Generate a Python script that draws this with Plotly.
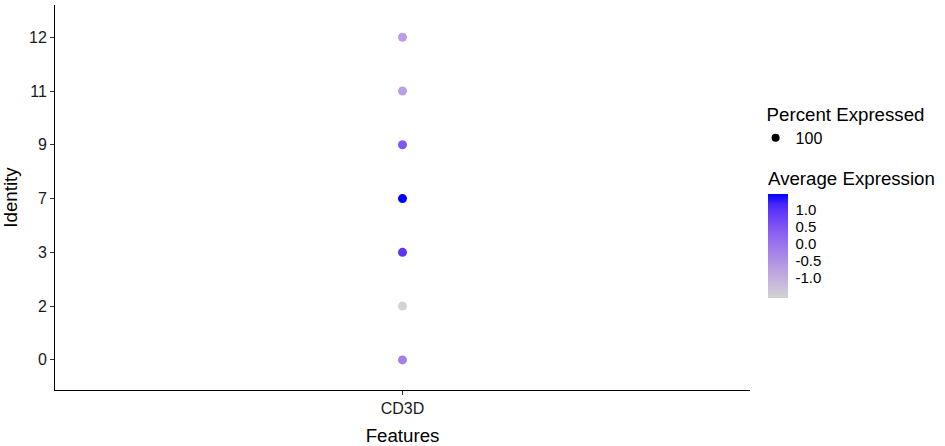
import plotly.graph_objects as go
import numpy as np

identities = ["0", "2", "3", "7", "9", "11", "12"]
features = ["CD3D"]
avg_expression = [-0.25, -1.6, 0.95, 1.45, 0.45, -0.75, -0.75]
pct_expressed = [100, 100, 100, 100, 100, 100, 100]

# ggplot-like lab interpolation lightgrey -> blue
def srgb_to_lin(c):
    c = c / 255.0
    return np.where(c <= 0.04045, c / 12.92, ((c + 0.055) / 1.055) ** 2.4)

def lin_to_srgb(c):
    c = np.clip(c, 0, 1)
    return np.where(c <= 0.0031308, 12.92 * c, 1.055 * c ** (1 / 2.4) - 0.055) * 255

M = np.array([[0.4124, 0.3576, 0.1805], [0.2126, 0.7152, 0.0722], [0.0193, 0.1192, 0.9505]])
Minv = np.linalg.inv(M)
wp = np.array([0.95047, 1.0, 1.08883])

def f(t):
    return np.where(t > (6 / 29) ** 3, np.cbrt(t), t / (3 * (6 / 29) ** 2) + 4 / 29)

def finv(t):
    return np.where(t > 6 / 29, t ** 3, 3 * (6 / 29) ** 2 * (t - 4 / 29))

def rgb_to_lab(rgb):
    xyz = M @ srgb_to_lin(np.array(rgb, float)) / wp
    fx, fy, fz = f(xyz)
    return np.array([116 * fy - 16, 500 * (fx - fy), 200 * (fy - fz)])

def lab_to_rgb(lab):
    L, a, b = lab
    fy = (L + 16) / 116
    fx = fy + a / 500
    fz = fy - b / 200
    xyz = finv(np.array([fx, fy, fz])) * wp
    return lin_to_srgb(Minv @ xyz)

lo = rgb_to_lab([211, 211, 211])
hi = rgb_to_lab([0, 0, 255])
colorscale = []
for t in np.linspace(0, 1, 11):
    r, g, b = lab_to_rgb(lo + (hi - lo) * t)
    colorscale.append([float(t), f"rgb({int(round(r))},{int(round(g))},{int(round(b))})"])

font = "Liberation Sans, Arial, sans-serif"
TITLE = 18.7
TICK = 16

fig = go.Figure()
fig.add_trace(go.Scatter(
    x=features * len(identities), y=identities, mode="markers",
    marker=dict(size=9, color=avg_expression, colorscale=colorscale,
                showscale=True,
                colorbar=dict(
                    title=dict(text="Average Expression", side="top",
                               font=dict(size=TITLE, color="black", family=font)),
                    thickness=20, thicknessmode="pixels",
                    len=130, lenmode="pixels",
                    x=1.0259, xanchor="left", y=0.576, yanchor="top",
                    xpad=0, ypad=0, outlinewidth=0,
                    tickvals=[-1.0, -0.5, 0.0, 0.5, 1.0],
                    ticktext=["-1.0", "-0.5", "0.0", "0.5", "1.0"],
                    ticks="outside", ticklen=5, tickcolor="white",
                    tickfont=dict(size=15, color="black", family=font),
                )),
    showlegend=False, hoverinfo="x+y+text", text=[str(v) for v in avg_expression],
))
fig.add_trace(go.Scatter(
    x=[None], y=[None], mode="markers", name=str(pct_expressed[0]),
    marker=dict(size=8, color="black"), showlegend=True,
))

fig.update_layout(
    width=945, height=446,
    margin=dict(l=55, r=195, t=5, b=56, autoexpand=False),
    paper_bgcolor="white", plot_bgcolor="white",
    font=dict(family=font, color="black"),
    legend=dict(
        title=dict(text="Percent Expressed", font=dict(size=TITLE, color="black", family=font)),
        x=1.021, xanchor="left", y=0.762, yanchor="top",
        font=dict(size=TICK, color="black", family=font),
        bgcolor="rgba(0,0,0,0)", itemwidth=30, indentation=-9,
    ),
    xaxis=dict(
        type="category", range=[-0.6, 0.6], automargin=False,
        showline=True, linecolor="black", linewidth=1,
        ticks="outside", ticklen=4, tickcolor="#333333",
        showgrid=False, zeroline=False,
        tickfont=dict(size=TICK, color="#1a1a1a", family=font),
        title=dict(text="Features", font=dict(size=TITLE, color="black", family=font)),
    ),
    yaxis=dict(
        type="category", categoryorder="array", categoryarray=identities,
        range=[-0.56, 6.6], automargin=False,
        showline=True, linecolor="black", linewidth=1,
        ticks="outside", ticklen=4, tickcolor="#333333",
        showgrid=False, zeroline=False,
        tickfont=dict(size=TICK, color="#1a1a1a", family=font),
        title=dict(text="Identity", font=dict(size=TITLE, color="black", family=font)),
    ),
)

fig.write_html("out.html", config={"displayModeBar": False},
               post_script="document.body.style.margin='0';")
